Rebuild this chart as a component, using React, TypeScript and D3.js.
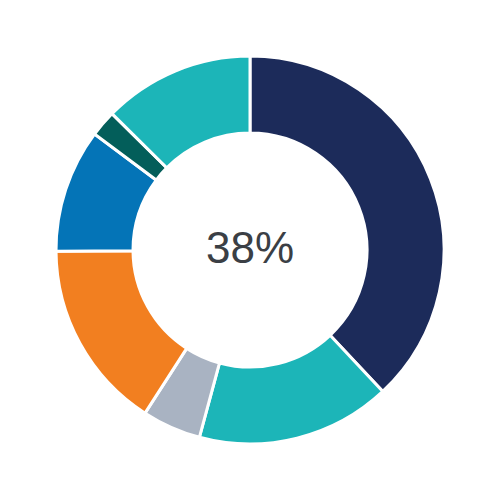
import { useEffect, useRef } from 'react'
import * as d3 from 'd3'

const categories = ['A', 'B', 'C', 'D', 'E', 'F', 'G']
const values = [38, 16.2, 4.9, 15.8, 10.3, 2.2, 12.6]
const colors = ['#1c2b5a', '#1cb5b8', '#a9b3c2', '#f27f20', '#0474b7', '#035e5a', '#1cb5b8']
const centerLabel = '38%'

export default function App() {
  const svgRef = useRef<SVGSVGElement | null>(null)

  useEffect(() => {
    const svgElement = svgRef.current
    if (!svgElement) return
    const width = 500
    const height = 500
    const svg = d3.select(svgElement)
    svg.selectAll('*').remove()

    const outer = 194
    const inner = 117
    const g = svg.append('g').attr('transform', `translate(${width / 2},${height / 2})`)

    const data = categories.map((c, i) => ({ name: c, value: values[i], color: colors[i] }))
    const pie = d3
      .pie<{ name: string; value: number; color: string }>()
      .value((d) => d.value)
      .sort(null)
    const arc = d3
      .arc<d3.PieArcDatum<{ name: string; value: number; color: string }>>()
      .innerRadius(inner)
      .outerRadius(outer)

    g.selectAll('path')
      .data(pie(data))
      .join('path')
      .attr('d', arc)
      .attr('fill', (d) => d.data.color)
      .attr('stroke', '#fff')
      .attr('stroke-width', 3)

    g.append('text')
      .attr('x', 0)
      .attr('y', 1)
      .attr('text-anchor', 'middle')
      .attr('dominant-baseline', 'middle')
      .attr('font-family', 'Liberation Sans, Arial, sans-serif')
      .attr('font-size', '44px')
      .attr('fill', '#3b3f45')
      .text(centerLabel)
  }, [])

  return (
    <svg
      ref={svgRef}
      width={500}
      height={500}
      style={{ position: 'absolute', left: 0, top: 0, background: '#fff' }}
    />
  )
}
